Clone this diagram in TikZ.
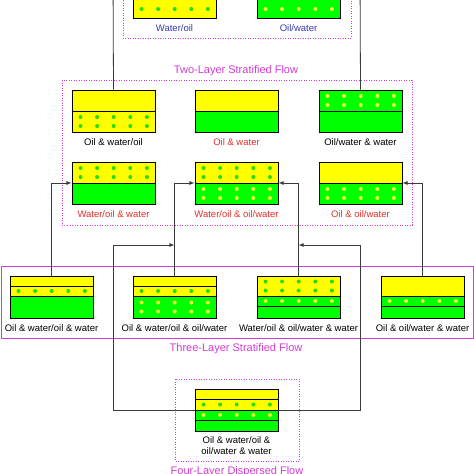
\documentclass[tikz,border=0pt]{standalone}
\usepackage{fontspec}
\setmainfont{Liberation Sans}
\usetikzlibrary{positioning}
\definecolor{oilc}{HTML}{FFFF00}
\definecolor{waterc}{HTML}{00FF00}
\definecolor{oildrop}{HTML}{EEFF33}
\definecolor{waterdrop}{HTML}{22DD00}
\definecolor{framec}{HTML}{D23CD2}
\definecolor{redlab}{HTML}{E0302A}
\definecolor{bluelab}{HTML}{3838B0}
\definecolor{linec}{HTML}{3A3A3A}
\tikzset{
  >=latex,
}
\tikzstyle{box}=[draw,line width=.9pt,minimum width=83pt,minimum height=42pt,inner sep=0pt]
\tikzstyle{lab}=[inner sep=0pt,font=\fontsize{9.5}{11}\selectfont]
\tikzstyle{framelab}=[inner sep=0pt,font=\fontsize{11}{13}\selectfont,text=framec]
\tikzstyle{frame}=[draw=framec,line width=.8pt,dash pattern=on .9pt off 1.6pt]
\tikzstyle{link}=[draw=linec,line width=.8pt]
% layers: top/height/fill/drop rows/drop colour
\newcommand{\dotgap}{9}
\newcommand{\flow}[4]{%
  \foreach \t/\h/\c/\r/\d in {#4}{
    \fill[\c] (#2,{#3+\t}) rectangle ++(83,\h);
    \ifnum\t>0 \draw[line width=.9pt] (#2,{#3+\t}) -- ++(83,0); \fi
    \ifnum\r>0
      \foreach \k in {1,...,\r}
        \foreach \i in {0,...,4}
          \fill[\d] ({#2+8.5+16.6*\i},{#3+\t+\h/2+(\k-(\r+1)/2)*\dotgap}) circle (2);
    \fi
  }
  \node[box] (#1) at ({#2+41.5},{#3+21}) {};
}

\begin{document}
\begin{tikzpicture}[x=1pt,y=-1pt]
  \path[use as bounding box] (0,0) rectangle (474,474);
  \clip (0,0) rectangle (474,474);

  % frames
  \draw[frame] (123,-20) rectangle (351,38);
  \draw[frame] (62,80) rectangle (412,225);
  \draw[draw=framec,line width=.8pt] (1,266) rectangle (473,338);
  \draw[frame] (175,379) rectangle (299,461);
  \node[framelab] (twoT) at (236,71) {Two-Layer Stratified Flow};
  \node[framelab] (thrT) at (236,349) {Three-Layer Stratified Flow};
  \node[framelab] (fourT) at (237,472) {Four-Layer Dispersed Flow};

  % single phase
  \renewcommand{\dotgap}{12}
  \flow{wo}{133}{-24}{0/42/oilc/3/waterdrop}
  \flow{ow}{257}{-24}{0/42/waterc/3/oildrop}
  \renewcommand{\dotgap}{9}
  \node[lab,text=bluelab,below=6pt of wo] (woL) {Water/oil};
  \node[lab,text=bluelab,below=6pt of ow] (owL) {Oil/water};

  % two layers
  \flow{twoA}{72}{90}{0/21/oilc/0/none,21/21/oilc/2/waterdrop}
  \flow{twoB}{195}{90}{0/21/oilc/0/none,21/21/waterc/0/none}
  \flow{twoC}{319}{90}{0/21/waterc/2/oildrop,21/21/waterc/0/none}
  \flow{twoD}{72}{162}{0/21/oilc/2/waterdrop,21/21/waterc/0/none}
  \flow{twoE}{195}{162}{0/21/oilc/2/waterdrop,21/21/waterc/2/oildrop}
  \flow{twoF}{319}{162}{0/21/oilc/0/none,21/21/waterc/2/oildrop}
  \node[lab,below=6pt of twoA] (twoAL) {Oil \& water/oil};
  \node[lab,text=redlab,below=6pt of twoB] (twoBL) {Oil \& water};
  \node[lab,below=6pt of twoC] (twoCL) {Oil/water \& water};
  \node[lab,text=redlab,below=6pt of twoD] (twoDL) {Water/oil \& water};
  \node[lab,text=redlab,below=6pt of twoE] (twoEL) {Water/oil \& oil/water};
  \node[lab,text=redlab,below=6pt of twoF] (twoFL) {Oil \& oil/water};

  % three layers
  \flow{thrA}{10}{276}{0/10/oilc/0/none,10/10/oilc/1/waterdrop,20/22/waterc/0/none}
  \flow{thrB}{133}{276}{0/10/oilc/0/none,10/10/oilc/1/waterdrop,20/22/waterc/2/oildrop}
  \flow{thrC}{257}{276}{0/20/oilc/2/waterdrop,20/10/waterc/1/oildrop,30/12/waterc/0/none}
  \flow{thrD}{381}{276}{0/20/oilc/0/none,20/10/waterc/1/oildrop,30/12/waterc/0/none}
  \node[lab,below=6pt of thrA] (thrAL) {Oil \& water/oil \& water};
  \node[lab,below=6pt of thrB] (thrBL) {Oil \& water/oil \& oil/water};
  \node[lab,below=6pt of thrC] (thrCL) {Water/oil \& oil/water \& water};
  \node[lab,below=6pt of thrD] (thrDL) {Oil \& oil/water \& water};

  % four layers
  \flow{four}{195}{389}{0/10/oilc/0/none,10/11/oilc/1/waterdrop,21/10/waterc/1/oildrop,31/11/waterc/0/none}
  \node[lab,align=center,below=4.8pt of four] (fourL) {Oil \& water/oil \&\\oil/water \& water};

  % connectors
  \coordinate (topL) at (113,-30);
  \coordinate (topR) at (360,-30);
  \coordinate (jL) at (113,245);
  \coordinate (jR) at (360,245);
  \draw[link] (topL) -- (twoA.north);
  \draw[link] (topR) -- (twoC.north);
  \draw[link,->] (thrA.north) |- (twoD.west);
  \draw[link,->] (thrB.north) |- (twoE.west);
  \draw[link,->] (thrC.north) |- (twoE.east);
  \draw[link,->] (thrD.north) |- (twoF.east);
  \draw[link,->] (four.west) -| (jL) -- (jL -| thrB.north);
  \draw[link,->] (four.east) -| (jR) -- (jR -| thrC.north);
\end{tikzpicture}
\end{document}
